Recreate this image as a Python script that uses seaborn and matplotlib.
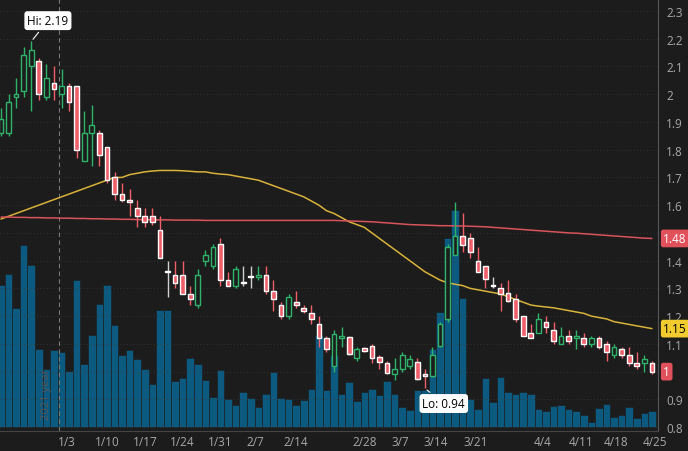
import matplotlib
matplotlib.use('Agg')
import matplotlib.pyplot as plt
import seaborn as sns
import numpy as np

# OHLC per trading day (Dec 2021 - Apr 25 2022)
opens = [1.86, 1.86, 1.99, 2.01, 2.10, 2.12, 1.99, 2.04, 2.00, 2.03,
         2.03, 1.76, 1.86, 1.86, 1.81, 1.70, 1.64, 1.62, 1.59, 1.56,
         1.56, 1.51, 1.36, 1.35, 1.35, 1.28, 1.24, 1.40, 1.38, 1.46,
         1.33, 1.31, 1.32, 1.34, 1.34, 1.35, 1.29, 1.24, 1.20, 1.25,
         1.23, 1.21, 1.17, 1.12, 1.02, 1.12, 1.124, 1.05, 1.085, 1.094,
         1.054, 1.03, 0.99, 1.01, 1.02, 1.034, 0.99, 0.985, 1.094, 1.19,
         1.42, 1.49, 1.48, 1.40, 1.38, 1.31, 1.30, 1.285, 1.26, 1.20,
         1.14, 1.14, 1.18, 1.15, 1.10, 1.13, 1.12, 1.12, 1.10, 1.12,
         1.10, 1.06, 1.08, 1.06, 1.03, 1.03, 1.03]
closes = [1.91, 1.97, 2.00, 2.14, 2.16, 2.00, 2.06, 2.02, 2.03, 1.97,
          1.80, 1.86, 1.89, 1.78, 1.69, 1.64, 1.62, 1.61, 1.56, 1.54,
          1.54, 1.41, 1.36, 1.32, 1.28, 1.26, 1.35, 1.42, 1.45, 1.33,
          1.31, 1.37, 1.32, 1.34, 1.35, 1.29, 1.26, 1.20, 1.27, 1.24,
          1.22, 1.19, 1.12, 1.08, 1.136, 1.13, 1.064, 1.08, 1.075, 1.05,
          1.033, 0.996, 1.01, 1.06, 1.046, 0.974, 0.985, 1.06, 1.17, 1.45,
          1.49, 1.456, 1.43, 1.36, 1.335, 1.31, 1.28, 1.255, 1.19, 1.13,
          1.12, 1.19, 1.16, 1.11, 1.13, 1.11, 1.13, 1.10, 1.12, 1.09,
          1.07, 1.09, 1.06, 1.03, 1.02, 1.045, 1.00]
highs = [1.95, 2.00, 2.06, 2.17, 2.19, 2.13, 2.11, 2.10, 2.09, 2.04,
         2.03, 1.94, 1.96, 1.87, 1.81, 1.72, 1.68, 1.66, 1.62, 1.59,
         1.59, 1.56, 1.40, 1.40, 1.40, 1.31, 1.37, 1.44, 1.46, 1.48,
         1.36, 1.38, 1.38, 1.38, 1.38, 1.38, 1.33, 1.25, 1.28, 1.29,
         1.24, 1.24, 1.20, 1.13, 1.15, 1.16, 1.13, 1.09, 1.09, 1.10,
         1.06, 1.04, 1.05, 1.07, 1.06, 1.05, 1.01, 1.09, 1.18, 1.46,
         1.61, 1.57, 1.50, 1.45, 1.38, 1.34, 1.32, 1.33, 1.28, 1.20,
         1.17, 1.21, 1.20, 1.18, 1.16, 1.15, 1.15, 1.14, 1.13, 1.13,
         1.11, 1.10, 1.09, 1.09, 1.07, 1.06, 1.04]
lows = [1.85, 1.85, 1.95, 1.99, 1.94, 1.98, 1.98, 1.98, 1.95, 1.94,
        1.77, 1.76, 1.74, 1.74, 1.68, 1.62, 1.61, 1.56, 1.52, 1.52,
        1.53, 1.41, 1.27, 1.30, 1.28, 1.24, 1.23, 1.38, 1.37, 1.31,
        1.31, 1.30, 1.31, 1.30, 1.33, 1.28, 1.22, 1.19, 1.19, 1.23,
        1.21, 1.17, 1.09, 1.07, 1.00, 1.09, 1.06, 1.04, 1.07, 1.03,
        1.01, 0.99, 0.97, 1.00, 1.01, 0.97, 0.94, 0.98, 1.09, 1.18,
        1.42, 1.43, 1.41, 1.36, 1.30, 1.30, 1.22, 1.25, 1.18, 1.13,
        1.12, 1.14, 1.14, 1.10, 1.10, 1.10, 1.08, 1.09, 1.09, 1.08,
        1.04, 1.05, 1.05, 1.02, 1.01, 1.00, 0.99]
volume = [4.25, 4.57, 3.55, 5.45, 4.85, 2.35, 1.75, 2.32, 2.25, 1.67,
          4.4, 1.9, 2.75, 3.67, 4.25, 3.07, 2.15, 2.3, 2.05, 1.75,
          1.3, 3.5, 3.5, 1.37, 1.47, 2.07, 1.9, 1.4, 0.9, 1.7,
          0.83, 0.65, 1.05, 0.87, 0.6, 1.0, 1.65, 0.87, 0.85, 0.65,
          0.8, 1.15, 2.75, 1.12, 2.15, 1.0, 1.35, 0.77, 1.05, 1.15,
          0.95, 1.37, 1.0, 0.6, 0.5, 1.1, 1.1, 2.35, 3.45, 5.65,
          6.5, 3.85, 0.85, 0.55, 1.47, 0.75, 1.5, 1.05, 1.0, 1.05,
          1.0, 0.55, 0.47, 0.63, 0.67, 0.55, 0.47, 0.37, 0.15, 0.57,
          0.7, 0.3, 0.37, 0.6, 0.27, 0.43, 0.47]
ma_short = [1.55, 1.56, 1.57, 1.58, 1.59, 1.60, 1.61,
            1.62, 1.63, 1.64, 1.65, 1.66, 1.67, 1.68,
            1.69, 1.70, 1.70, 1.71, 1.715, 1.72, 1.723,
            1.725, 1.725, 1.725, 1.724, 1.722, 1.72, 1.72,
            1.715, 1.712, 1.71, 1.705, 1.70, 1.695, 1.69,
            1.68, 1.67, 1.66, 1.65, 1.64, 1.63, 1.615,
            1.60, 1.58, 1.57, 1.555, 1.54, 1.53, 1.52,
            1.50, 1.48, 1.46, 1.44, 1.42, 1.40, 1.38,
            1.36, 1.345, 1.33, 1.32, 1.315, 1.31, 1.30,
            1.295, 1.29, 1.285, 1.28, 1.27, 1.26, 1.25,
            1.24, 1.236, 1.233, 1.23, 1.225, 1.22, 1.215,
            1.21, 1.20, 1.195, 1.19, 1.18, 1.175, 1.17,
            1.165, 1.16, 1.155]
ma_long = [1.557, 1.557, 1.556, 1.556, 1.555, 1.555, 1.554,
           1.554, 1.553, 1.553, 1.552, 1.552, 1.551, 1.551,
           1.550, 1.550, 1.549, 1.549, 1.548, 1.548, 1.547,
           1.547, 1.547, 1.546, 1.546, 1.546, 1.546, 1.545,
           1.545, 1.545, 1.545, 1.545, 1.545, 1.545, 1.545,
           1.545, 1.545, 1.545, 1.545, 1.545, 1.545, 1.545,
           1.545, 1.545, 1.545, 1.544, 1.543, 1.542, 1.541,
           1.540, 1.538, 1.536, 1.534, 1.532, 1.530, 1.529,
           1.528, 1.527, 1.526, 1.526, 1.525, 1.525, 1.524,
           1.523, 1.522, 1.520, 1.518, 1.516, 1.514, 1.512,
           1.510, 1.508, 1.506, 1.504, 1.502, 1.500, 1.499,
           1.497, 1.495, 1.493, 1.491, 1.489, 1.487, 1.485,
           1.483, 1.481, 1.480]
date_labels = ['1/3', '1/10', '1/17', '1/24', '1/31', '2/7', '2/14', '2/28',
               '3/7', '3/14', '3/21', '4/4', '4/11', '4/18', '4/25']
date_pos = [8.7, 14.0, 19.0, 24.0, 28.9, 33.6, 39.0, 48.1, 52.7, 57.5,
            62.7, 71.6, 76.6, 81.2, 86.4]
price_ticks = [0.8, 0.9, 1.0, 1.1, 1.2, 1.3, 1.4, 1.5, 1.6, 1.7, 1.8, 1.9, 2.0, 2.1, 2.2, 2.3]

BG = '#1c1c1c'
GREEN = '#2fb36b'
RED = '#ef5f6a'
GREY = '#a8a8a8'

sns.set_style('dark')
plt.rcParams['font.family'] = ['Open Sans', 'DejaVu Sans']

fig = plt.figure(figsize=(6.88, 4.52), dpi=100, facecolor=BG)
ax = fig.add_axes([0, 20 / 452, 658 / 688, 432 / 452])
ax.set_facecolor(BG)

# volume on a hidden twin axis
ax2 = ax.twinx()
idx = np.arange(len(volume))
sns.barplot(x=idx, y=volume, native_scale=True, width=1.0, color='#0d5a80',
            saturation=1, ax=ax2, edgecolor=BG, linewidth=0.4)
ax2.set_ylim(-0.12, 12.82)
ax2.axis('off')
ax.set_zorder(ax2.get_zorder() + 1)
ax.patch.set_visible(False)
ax2.set_facecolor(BG)

# grid
for p in price_ticks:
    ax.axhline(p, color='#3a3a3a', lw=0.6, ls=(0, (1, 3)), zorder=0)

# candles
o = np.array(opens); c = np.array(closes)
up = c >= o
doji = np.abs(c - o) < 0.004
for i in range(len(o)):
    col = '#d0d0d0' if doji[i] else (GREEN if up[i] else RED)
    ax.vlines(i, lows[i], highs[i], color=col, lw=1, zorder=3)
    lo_b, hi_b = min(o[i], c[i]), max(o[i], c[i])
    h = max(hi_b - lo_b, 0.004)
    if up[i] and not doji[i]:
        ax.bar(i, h, bottom=lo_b, width=0.62, facecolor=BG, edgecolor=col, lw=1, zorder=4)
    else:
        ax.bar(i, h, bottom=lo_b, width=0.62, color=col, zorder=4)

sns.lineplot(x=idx, y=ma_short, color='#d8b23a', lw=1.1, ax=ax, zorder=2)
sns.lineplot(x=idx, y=ma_long, color='#d9535c', lw=1.1, ax=ax, zorder=2)

ax.set_xlim(-0.13, 86.8)
ax.set_ylim(0.786, 2.343)

ax.axvline(7.7, color='#777777', lw=0.8, ls=(0, (4, 3)), zorder=1)
ax.text(6.0, 0.83, '2021 year', rotation=90, color='#555555', fontsize=8, va='bottom', ha='center')

ax.yaxis.tick_right()
ax.set_yticks(price_ticks)
# 1.5 and 1 are covered by the value tags
ax.set_yticklabels(['' if p in (1.0, 1.5) else f'{p:g}' for p in price_ticks])
ax.tick_params(axis='y', colors=GREY, labelsize=8.5, length=0, pad=6)
ax.set_xticks(date_pos)
ax.set_xticklabels(date_labels)
ax.tick_params(axis='x', colors=GREY, labelsize=8.5, length=0, pad=3)
for s in ax.spines.values():
    s.set_visible(False)
ax.spines['right'].set_visible(True)
ax.spines['right'].set_color('#555555')
ax.spines['bottom'].set_visible(True)
ax.spines['bottom'].set_color('#444444')

# last-value tags
tr = ax.get_yaxis_transform()
ax.text(1.008, ma_long[-1], f'{ma_long[-1]:.2f}', transform=tr, color='white', fontsize=8.5,
        ha='left', va='center', bbox=dict(boxstyle='round,pad=0.2', fc='#e0515c', ec='none'), zorder=10)
ax.text(1.008, ma_short[-1], '1.15', transform=tr, color='black', fontsize=8.5,
        ha='left', va='center', bbox=dict(boxstyle='round,pad=0.2', fc='#f2cc2e', ec='none'), zorder=10)
ax.text(1.008, closes[-1], '1', transform=tr, color='white', fontsize=8.5,
        ha='left', va='center', bbox=dict(boxstyle='round,pad=0.2', fc='#e0515c', ec='none'), zorder=10)

# hi / lo callouts
hi_i = int(np.argmax(highs)); lo_i = int(np.argmin(lows))
ax.annotate(f'Hi: {highs[hi_i]:.2f}', xy=(hi_i, highs[hi_i]), xytext=(hi_i + 2.2, 2.265),
            color='black', fontsize=8.5, ha='center', va='center',
            bbox=dict(boxstyle='round,pad=0.25', fc='white', ec='none'),
            arrowprops=dict(arrowstyle='-', color='white', lw=0.8), zorder=10)
ax.annotate(f'Lo: {lows[lo_i]:.2f}', xy=(lo_i, lows[lo_i]), xytext=(lo_i + 2.5, 0.885),
            color='black', fontsize=8.5, ha='center', va='center',
            bbox=dict(boxstyle='round,pad=0.25', fc='white', ec='none'),
            arrowprops=dict(arrowstyle='-', color='white', lw=0.8), zorder=10)

fig.savefig('out.png', dpi=100, facecolor=BG)
